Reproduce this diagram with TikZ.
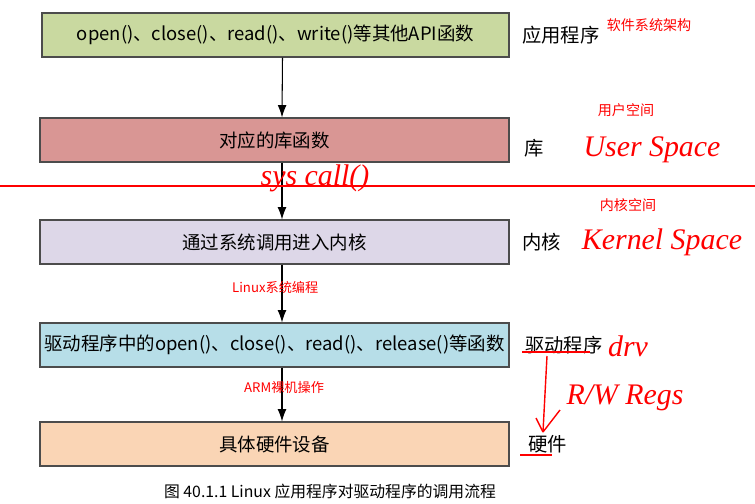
\documentclass[tikz,border=0pt]{standalone}
\usepackage{fontspec}
\usetikzlibrary{arrows.meta}
\setmainfont{Liberation Serif}
\newfontfamily\cjk{Noto Sans CJK SC}
\begin{document}
\begin{tikzpicture}[x=0.02cm,y=-0.02cm,
 box/.style={draw=black!70,line width=0.6pt,minimum width=#1*0.02cm,minimum height=0.88cm,inner sep=0pt,font=\cjk\fontsize{10.5}{12}\selectfont},
 lab/.style={anchor=west,font=\cjk\fontsize{11}{13}\selectfont},
 note/.style={text=red,font=\cjk\fontsize{8}{10}\selectfont},
 hand/.style={text=red,font=\itshape\fontsize{17}{19}\selectfont},
 arr/.style={-{Latex[length=7pt,width=5pt]},line width=0.6pt}]
\useasboundingbox (0,0) rectangle (755,504);
\node[box=467,fill={rgb,255:red,201;green,217;blue,160}] (b1) at (275.5,35) {open()、close()、read()、write()等其他API函数};
\node[box=469,fill={rgb,255:red,217;green,150;blue,148}] (b2) at (274.5,140) {对应的库函数};
\node[box=469,fill={rgb,255:red,221;green,215;blue,232}] (b3) at (274.5,242) {通过系统调用进入内核};
\node[box=469,fill={rgb,255:red,183;green,222;blue,232}] (b4) at (274.5,345) {驱动程序中的open()、close()、read()、release()等函数};
\node[box=469,fill={rgb,255:red,250;green,213;blue,181}] (b5) at (274.5,444) {具体硬件设备};
\draw[arr] ([xshift=0.14cm]b1.south) -- ([xshift=0.15cm]b2.north);
\draw[arr] ([xshift=0.15cm]b2.south) -- ([xshift=0.15cm]b3.north);
\draw[arr] ([xshift=0.15cm]b3.south) -- ([xshift=0.15cm]b4.north);
\draw[arr] ([xshift=0.15cm]b4.south) -- ([xshift=0.15cm]b5.north);
\node[lab] (l1) at (516,35) {应用程序};
\node[lab] (l2) at (518,148) {库};
\node[lab] (l3) at (516,242) {内核};
\node[lab] (l4) at (519,345) {驱动程序};
\node[lab] (l5) at (522,444) {硬件};
\node[note,font=\cjk\fontsize{7.5}{9}\selectfont,anchor=west] (m1) at (226,287) {Linux系统编程};
\node[note,font=\cjk\fontsize{7.5}{9}\selectfont,anchor=west] (m2) at (238,387) {ARM裸机操作};
\node[note] (n1) at (649,25) {软件系统架构};
\node[note] (n2) at (626,110) {用户空间};
\node[note] (n3) at (628,205) {内核空间};
\node[hand] (h1) at (652,150) {User Space};
\node[hand] (h2) at (662,242) {Kernel Space};
\node[hand] (h3) at (315,178) {sys call()};
\node[hand] (h4) at (628,346) {drv};
\node[hand] (h5) at (625,398) {R/W Regs};
\draw[red,line width=0.8pt] (0,186) -- (755,186);
\draw[red,line width=0.8pt] (522,352) -- (590,352);
\draw[red,line width=0.8pt] (520,455) -- (552,455);
\coordinate (r1) at (547,356);
\coordinate (r2) at (543,432);
\draw[red,line width=0.8pt] (r1) -- (r2);
\draw[red,line width=0.8pt] (r2) -- (536,418) (r2) -- (560,410);
\node[font=\cjk\fontsize{9}{11}\selectfont] (cap) at (330,491) {图 40.1.1 Linux 应用程序对驱动程序的调用流程};
\end{tikzpicture}
\end{document}
